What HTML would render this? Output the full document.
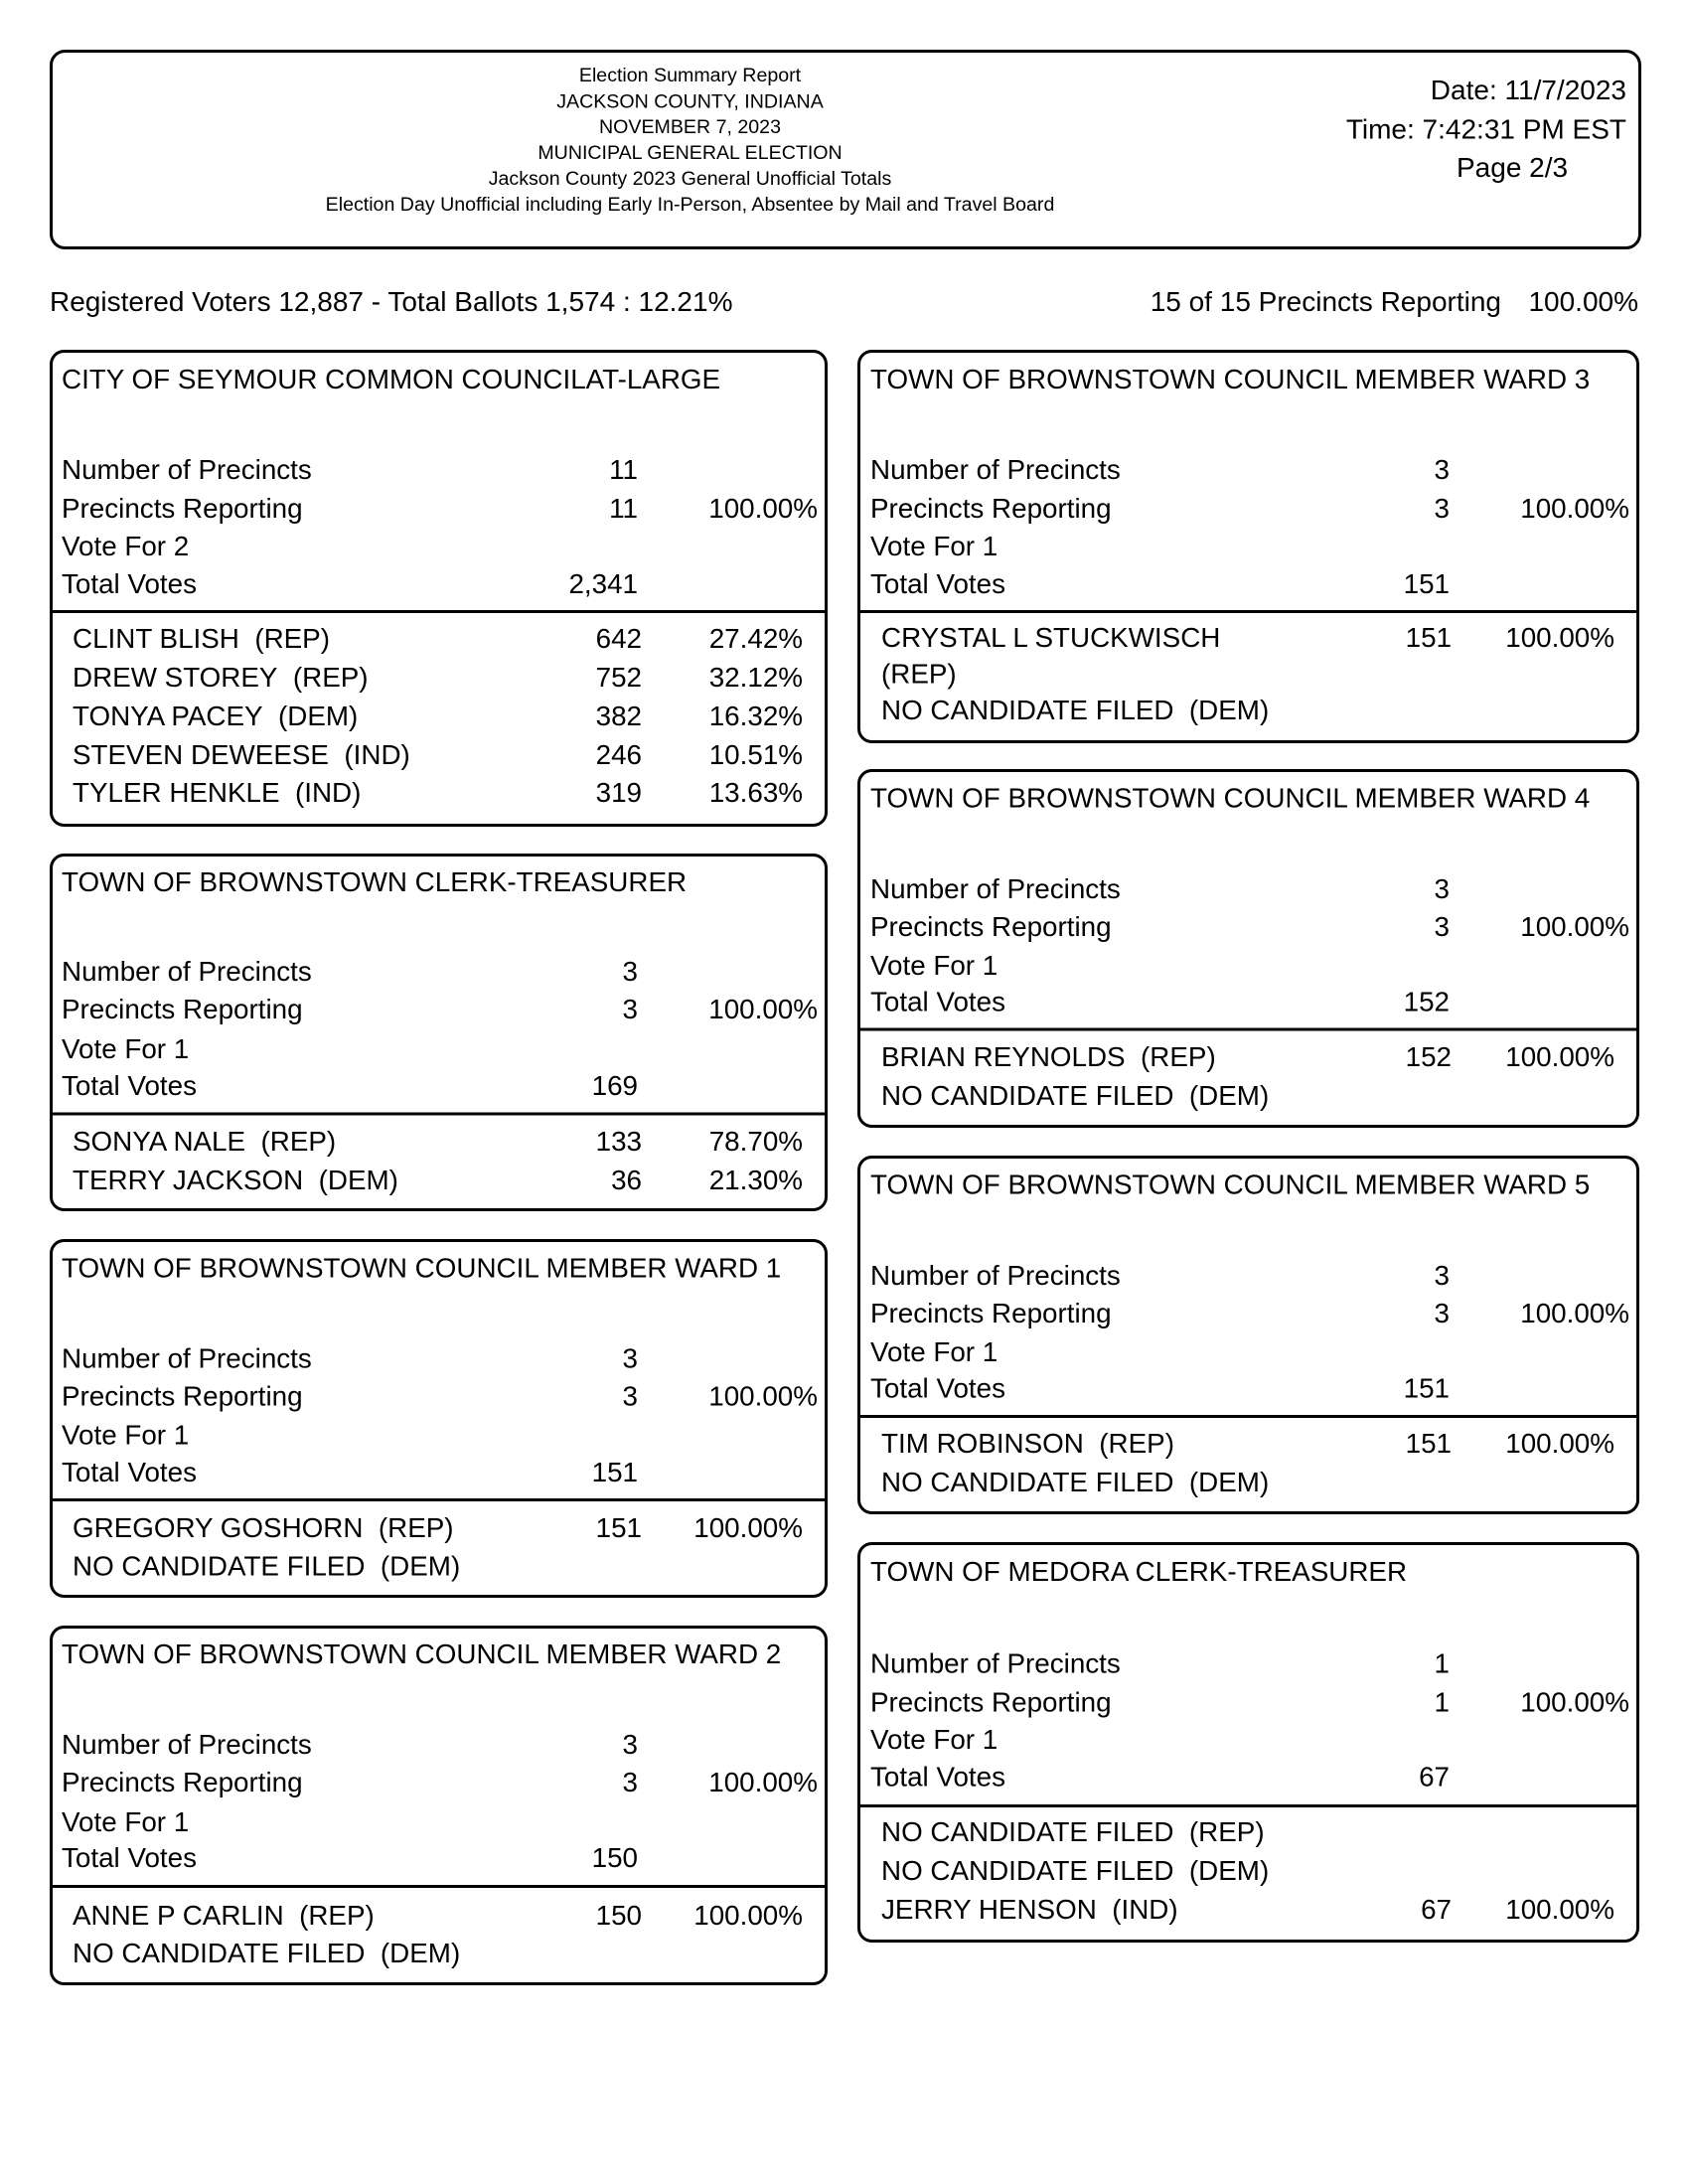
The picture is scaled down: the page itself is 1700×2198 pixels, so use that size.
<!DOCTYPE html>
<html>
<head>
<meta charset="utf-8">
<style>
html,body{margin:0;padding:0;background:#fff;}
svg{display:block;}
text{font-family:"Liberation Sans",Arial,Helvetica,sans-serif;fill:#000;}
.b{font-size:27.8px;}
.h{font-size:19.6px;}
.d{font-size:28px;}
.e{text-anchor:end;}
.m{text-anchor:middle;}
rect,line{stroke:#000;stroke-width:3;fill:none;}
</style>
</head>
<body>
<svg width="1700" height="2198" viewBox="0 0 1700 2198" xmlns="http://www.w3.org/2000/svg">
<rect x="0" y="0" width="1700" height="2198" style="fill:#fff;stroke:none"/>

<!-- Header -->
<rect x="51.5" y="51.5" width="1599" height="198" rx="14" ry="14"/>
<text class="h m" x="694.5" y="82">Election Summary Report</text>
<text class="h m" x="694.5" y="108.5">JACKSON COUNTY, INDIANA</text>
<text class="h m" x="694.5" y="134">NOVEMBER 7, 2023</text>
<text class="h m" x="694.5" y="160">MUNICIPAL GENERAL ELECTION</text>
<text class="h m" x="694.5" y="186">Jackson County 2023 General Unofficial Totals</text>
<text class="h m" x="694.5" y="212">Election Day Unofficial including Early In-Person, Absentee by Mail and Travel Board</text>
<text class="d e" x="1637" y="100">Date: 11/7/2023</text>
<text class="d e" x="1637" y="139.5">Time: 7:42:31 PM EST</text>
<text class="d" x="1466" y="178">Page 2/3</text>

<text class="d" x="50" y="313">Registered Voters 12,887 - Total Ballots 1,574 : 12.21%</text>
<text class="d e" x="1511" y="313">15 of 15 Precincts Reporting</text>
<text class="d e" x="1649" y="313">100.00%</text>

<!-- LEFT BOX 1 -->
<rect x="51.5" y="353.5" width="780" height="477" rx="13" ry="13"/>
<line x1="50" y1="615.5" x2="833" y2="615.5"/>
<text class="b" x="62" y="391">CITY OF SEYMOUR COMMON COUNCILAT-LARGE</text>
<text class="b" x="62" y="482">Number of Precincts</text><text class="b e" x="642" y="482">11</text>
<text class="b" x="62" y="521">Precincts Reporting</text><text class="b e" x="642" y="521">11</text><text class="b e" x="823" y="521">100.00%</text>
<text class="b" x="62" y="559">Vote For 2</text>
<text class="b" x="62" y="597">Total Votes</text><text class="b e" x="642" y="597">2,341</text>
<text class="b" x="73" y="652">CLINT BLISH&#160; (REP)</text><text class="b e" x="646" y="652">642</text><text class="b e" x="808" y="652">27.42%</text>
<text class="b" x="73" y="691">DREW STOREY&#160; (REP)</text><text class="b e" x="646" y="691">752</text><text class="b e" x="808" y="691">32.12%</text>
<text class="b" x="73" y="730">TONYA PACEY&#160; (DEM)</text><text class="b e" x="646" y="730">382</text><text class="b e" x="808" y="730">16.32%</text>
<text class="b" x="73" y="769">STEVEN DEWEESE&#160; (IND)</text><text class="b e" x="646" y="769">246</text><text class="b e" x="808" y="769">10.51%</text>
<text class="b" x="73" y="807">TYLER HENKLE&#160; (IND)</text><text class="b e" x="646" y="807">319</text><text class="b e" x="808" y="807">13.63%</text>

<!-- LEFT BOX 2 -->
<rect x="51.5" y="860.5" width="780" height="357" rx="13" ry="13"/>
<line x1="50" y1="1121" x2="833" y2="1121"/>
<text class="b" x="62" y="897">TOWN OF BROWNSTOWN CLERK-TREASURER</text>
<text class="b" x="62" y="987">Number of Precincts</text><text class="b e" x="642" y="987">3</text>
<text class="b" x="62" y="1025">Precincts Reporting</text><text class="b e" x="642" y="1025">3</text><text class="b e" x="823" y="1025">100.00%</text>
<text class="b" x="62" y="1065">Vote For 1</text>
<text class="b" x="62" y="1102">Total Votes</text><text class="b e" x="642" y="1102">169</text>
<text class="b" x="73" y="1158">SONYA NALE&#160; (REP)</text><text class="b e" x="646" y="1158">133</text><text class="b e" x="808" y="1158">78.70%</text>
<text class="b" x="73" y="1197">TERRY JACKSON&#160; (DEM)</text><text class="b e" x="646" y="1197">36</text><text class="b e" x="808" y="1197">21.30%</text>

<!-- LEFT BOX 3 -->
<rect x="51.5" y="1248.5" width="780" height="358" rx="13" ry="13"/>
<line x1="50" y1="1509.5" x2="833" y2="1509.5"/>
<text class="b" x="62" y="1285.5">TOWN OF BROWNSTOWN COUNCIL MEMBER WARD 1</text>
<text class="b" x="62" y="1376.5">Number of Precincts</text><text class="b e" x="642" y="1376.5">3</text>
<text class="b" x="62" y="1414.5">Precincts Reporting</text><text class="b e" x="642" y="1414.5">3</text><text class="b e" x="823" y="1414.5">100.00%</text>
<text class="b" x="62" y="1453.5">Vote For 1</text>
<text class="b" x="62" y="1491">Total Votes</text><text class="b e" x="642" y="1491">151</text>
<text class="b" x="73" y="1547">GREGORY GOSHORN&#160; (REP)</text><text class="b e" x="646" y="1547">151</text><text class="b e" x="808" y="1547">100.00%</text>
<text class="b" x="73" y="1585.5">NO CANDIDATE FILED&#160; (DEM)</text>

<!-- LEFT BOX 4 -->
<rect x="51.5" y="1637.5" width="780" height="359" rx="13" ry="13"/>
<line x1="50" y1="1898.5" x2="833" y2="1898.5"/>
<text class="b" x="62" y="1674">TOWN OF BROWNSTOWN COUNCIL MEMBER WARD 2</text>
<text class="b" x="62" y="1765">Number of Precincts</text><text class="b e" x="642" y="1765">3</text>
<text class="b" x="62" y="1803">Precincts Reporting</text><text class="b e" x="642" y="1803">3</text><text class="b e" x="823" y="1803">100.00%</text>
<text class="b" x="62" y="1843">Vote For 1</text>
<text class="b" x="62" y="1879">Total Votes</text><text class="b e" x="642" y="1879">150</text>
<text class="b" x="73" y="1937">ANNE P CARLIN&#160; (REP)</text><text class="b e" x="646" y="1937">150</text><text class="b e" x="808" y="1937">100.00%</text>
<text class="b" x="73" y="1975">NO CANDIDATE FILED&#160; (DEM)</text>

<!-- RIGHT BOX W3 -->
<rect x="864.5" y="353.5" width="784" height="393" rx="13" ry="13"/>
<line x1="863" y1="615.5" x2="1650" y2="615.5"/>
<text class="b" x="876" y="391">TOWN OF BROWNSTOWN COUNCIL MEMBER WARD 3</text>
<text class="b" x="876" y="482">Number of Precincts</text><text class="b e" x="1459" y="482">3</text>
<text class="b" x="876" y="521">Precincts Reporting</text><text class="b e" x="1459" y="521">3</text><text class="b e" x="1640" y="521">100.00%</text>
<text class="b" x="876" y="559">Vote For 1</text>
<text class="b" x="876" y="597">Total Votes</text><text class="b e" x="1459" y="597">151</text>
<text class="b" x="887" y="651">CRYSTAL L STUCKWISCH</text><text class="b e" x="1461" y="651">151</text><text class="b e" x="1625" y="651">100.00%</text>
<text class="b" x="887" y="687.5">(REP)</text>
<text class="b" x="887" y="724">NO CANDIDATE FILED&#160; (DEM)</text>

<!-- RIGHT BOX W4 -->
<rect x="864.5" y="775.5" width="784" height="358" rx="13" ry="13"/>
<line x1="863" y1="1036" x2="1650" y2="1036"/>
<text class="b" x="876" y="812.5">TOWN OF BROWNSTOWN COUNCIL MEMBER WARD 4</text>
<text class="b" x="876" y="904">Number of Precincts</text><text class="b e" x="1459" y="904">3</text>
<text class="b" x="876" y="942">Precincts Reporting</text><text class="b e" x="1459" y="942">3</text><text class="b e" x="1640" y="942">100.00%</text>
<text class="b" x="876" y="981">Vote For 1</text>
<text class="b" x="876" y="1017.5">Total Votes</text><text class="b e" x="1459" y="1017.5">152</text>
<text class="b" x="887" y="1073">BRIAN REYNOLDS&#160; (REP)</text><text class="b e" x="1461" y="1073">152</text><text class="b e" x="1625" y="1073">100.00%</text>
<text class="b" x="887" y="1112">NO CANDIDATE FILED&#160; (DEM)</text>

<!-- RIGHT BOX W5 -->
<rect x="864.5" y="1164.5" width="784" height="358" rx="13" ry="13"/>
<line x1="863" y1="1425.5" x2="1650" y2="1425.5"/>
<text class="b" x="876" y="1201.5">TOWN OF BROWNSTOWN COUNCIL MEMBER WARD 5</text>
<text class="b" x="876" y="1293">Number of Precincts</text><text class="b e" x="1459" y="1293">3</text>
<text class="b" x="876" y="1331">Precincts Reporting</text><text class="b e" x="1459" y="1331">3</text><text class="b e" x="1640" y="1331">100.00%</text>
<text class="b" x="876" y="1370">Vote For 1</text>
<text class="b" x="876" y="1406.5">Total Votes</text><text class="b e" x="1459" y="1406.5">151</text>
<text class="b" x="887" y="1462">TIM ROBINSON&#160; (REP)</text><text class="b e" x="1461" y="1462">151</text><text class="b e" x="1625" y="1462">100.00%</text>
<text class="b" x="887" y="1501">NO CANDIDATE FILED&#160; (DEM)</text>

<!-- RIGHT BOX MEDORA -->
<rect x="864.5" y="1553.5" width="784" height="400" rx="13" ry="13"/>
<line x1="863" y1="1817.5" x2="1650" y2="1817.5"/>
<text class="b" x="876" y="1591">TOWN OF MEDORA CLERK-TREASURER</text>
<text class="b" x="876" y="1683.5">Number of Precincts</text><text class="b e" x="1459" y="1683.5">1</text>
<text class="b" x="876" y="1722.5">Precincts Reporting</text><text class="b e" x="1459" y="1722.5">1</text><text class="b e" x="1640" y="1722.5">100.00%</text>
<text class="b" x="876" y="1760">Vote For 1</text>
<text class="b" x="876" y="1797.5">Total Votes</text><text class="b e" x="1459" y="1797.5">67</text>
<text class="b" x="887" y="1853">NO CANDIDATE FILED&#160; (REP)</text>
<text class="b" x="887" y="1892">NO CANDIDATE FILED&#160; (DEM)</text>
<text class="b" x="887" y="1931">JERRY HENSON&#160; (IND)</text><text class="b e" x="1461" y="1931">67</text><text class="b e" x="1625" y="1931">100.00%</text>
</svg>
</body>
</html>
